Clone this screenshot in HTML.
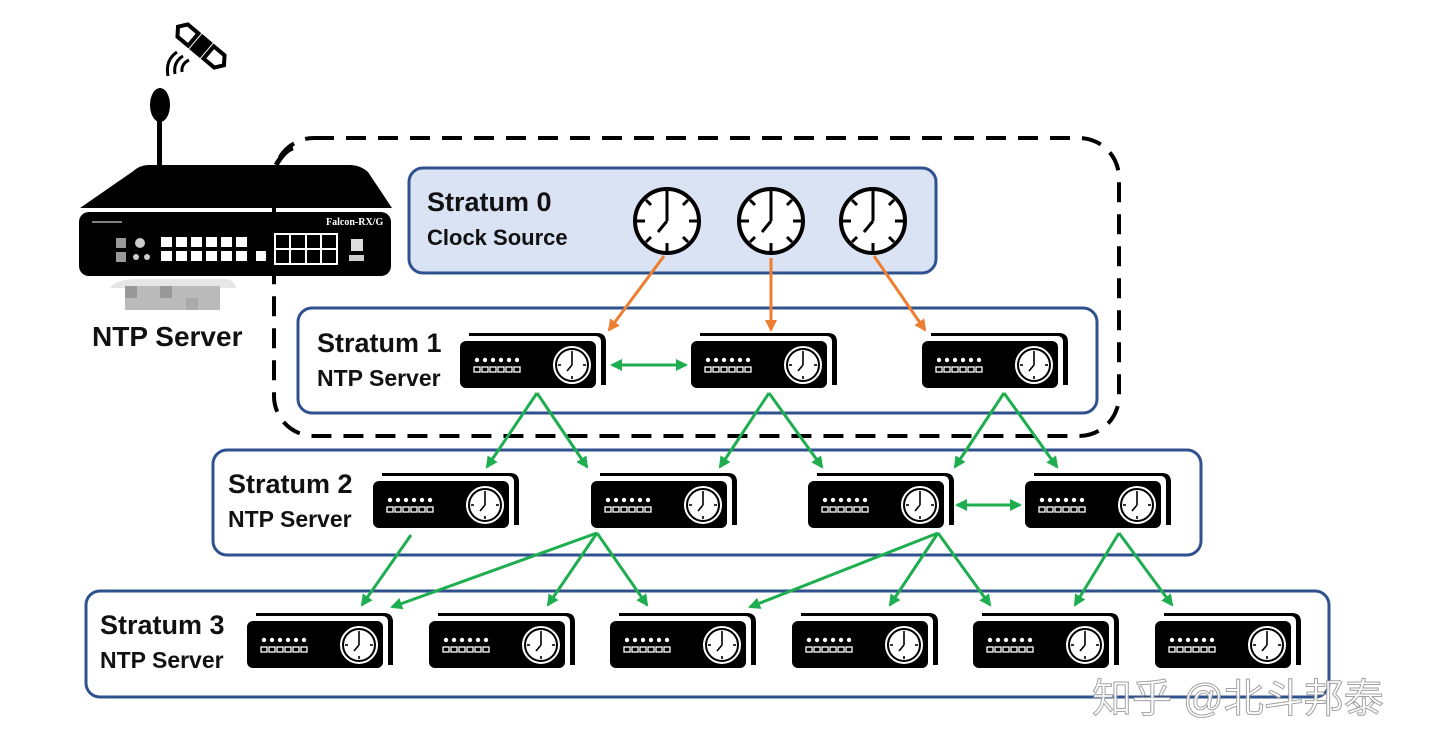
<!DOCTYPE html>
<html><head><meta charset="utf-8"><style>
html,body{margin:0;padding:0;background:#fff;}
svg{display:block;}
.t{font-family:"Liberation Sans",sans-serif;font-weight:bold;fill:#111;}
</style></head><body>
<svg width="1436" height="755" viewBox="0 0 1436 755" xmlns="http://www.w3.org/2000/svg">
<defs>
<g id="clk">
  <circle r="32" fill="#fff" stroke="#000" stroke-width="4"/>
  <g stroke="#000" stroke-width="3">
    <line x1="0" y1="-30" x2="0" y2="-22"/><line x1="0" y1="30" x2="0" y2="22"/>
    <line x1="-30" y1="0" x2="-22" y2="0"/><line x1="30" y1="0" x2="22" y2="0"/>
    <line x1="21" y1="-21" x2="16" y2="-16"/><line x1="21" y1="21" x2="16" y2="16"/>
    <line x1="-21" y1="21" x2="-16" y2="16"/><line x1="-21" y1="-21" x2="-16" y2="-16"/>
    <line x1="0" y1="0" x2="0" y2="-24"/><line x1="0" y1="0" x2="-9" y2="11"/>
  </g>
</g>
<g id="srv">
  <path d="M10 0 H138 Q147 0 147 9 V52 H138 V12 Q138 6 132 6 H10 Z" fill="#000"/>
  <path d="M6 3 H136 Q142 3 142 9 V54 H134 V14 Q134 9 129 9 H6 Z" fill="#fff"/>
  <rect x="1" y="8" width="136" height="47" rx="6" fill="#000"/>
  <g fill="#fff">
    <circle cx="18" cy="27" r="2.2"/><circle cx="26" cy="27" r="2.2"/><circle cx="34" cy="27" r="2.2"/>
    <circle cx="42" cy="27" r="2.2"/><circle cx="50" cy="27" r="2.2"/><circle cx="58" cy="27" r="2.2"/>
  </g>
  <g fill="none" stroke="#fff" stroke-width="1.3">
    <rect x="15" y="34" width="6" height="5"/><rect x="23" y="34" width="6" height="5"/><rect x="31" y="34" width="6" height="5"/>
    <rect x="39" y="34" width="6" height="5"/><rect x="47" y="34" width="6" height="5"/><rect x="55" y="34" width="6" height="5"/>
  </g>
  <circle cx="113" cy="32" r="18" fill="#000" stroke="#fff" stroke-width="2"/>
  <circle cx="113" cy="32" r="15" fill="#fff"/>
  <g stroke="#000" stroke-width="1.6">
    <line x1="113" y1="18" x2="113" y2="21"/><line x1="113" y1="46" x2="113" y2="43"/>
    <line x1="99" y1="32" x2="102" y2="32"/><line x1="127" y1="32" x2="124" y2="32"/>
    <line x1="113" y1="32" x2="113" y2="21"/><line x1="113" y1="32" x2="108" y2="38"/>
  </g>
</g>
<marker id="ag" markerWidth="14" markerHeight="14" refX="10" refY="6" orient="auto" markerUnits="userSpaceOnUse"><path d="M0 0 L12 6 L0 12 Z" fill="#1fae4f"/></marker>
<marker id="ag2" markerWidth="14" markerHeight="14" refX="2" refY="6" orient="auto" markerUnits="userSpaceOnUse"><path d="M12 0 L0 6 L12 12 Z" fill="#1fae4f"/></marker>
<marker id="ao2" markerWidth="14" markerHeight="14" refX="10" refY="6" orient="auto" markerUnits="userSpaceOnUse"><path d="M0 0 L12 6 L0 12 Z" fill="#ed7d31"/></marker>
</defs>

<rect x="274" y="138" width="845" height="298" rx="40" fill="none" stroke="#000" stroke-width="4" stroke-dasharray="20 12"/>

<rect x="409" y="168" width="527" height="105" rx="14" fill="#dae3f3" stroke="#2f528f" stroke-width="3"/>
<rect x="298" y="308" width="799" height="105" rx="14" fill="#fff" stroke="#2f528f" stroke-width="3"/>
<rect x="213" y="450" width="988" height="105" rx="14" fill="#fff" stroke="#2f528f" stroke-width="3"/>
<rect x="86" y="591" width="1243" height="106" rx="14" fill="#fff" stroke="#2f528f" stroke-width="3"/>

<text class="t" x="427" y="211" font-size="27">Stratum 0</text>
<text class="t" x="427" y="245" font-size="22">Clock Source</text>
<text class="t" x="317" y="352" font-size="27">Stratum 1</text>
<text class="t" x="317" y="386" font-size="23">NTP Server</text>
<text class="t" x="228" y="493" font-size="27">Stratum 2</text>
<text class="t" x="228" y="527" font-size="23">NTP Server</text>
<text class="t" x="100" y="634" font-size="27">Stratum 3</text>
<text class="t" x="100" y="668" font-size="23">NTP Server</text>
<text class="t" x="92" y="346" font-size="28">NTP Server</text>

<use href="#clk" x="667" y="221"/><use href="#clk" x="771" y="221"/><use href="#clk" x="873" y="221"/>

<use href="#srv" x="459" y="333"/><use href="#srv" x="690" y="333"/><use href="#srv" x="921" y="333"/>
<use href="#srv" x="372" y="473"/><use href="#srv" x="590" y="473"/><use href="#srv" x="807" y="473"/><use href="#srv" x="1024" y="473"/>
<use href="#srv" x="246" y="613"/><use href="#srv" x="428" y="613"/><use href="#srv" x="609" y="613"/><use href="#srv" x="791" y="613"/><use href="#srv" x="972" y="613"/><use href="#srv" x="1154" y="613"/>

<g stroke="#ed7d31" stroke-width="3" fill="none">
<line x1="664" y1="256" x2="609" y2="330" marker-end="url(#ao2)"/>
<line x1="771" y1="258" x2="771" y2="330" marker-end="url(#ao2)"/>
<line x1="874" y1="256" x2="925" y2="330" marker-end="url(#ao2)"/>
</g>

<g stroke="#1fae4f" stroke-width="3" fill="none">
<line x1="612" y1="365" x2="686" y2="365" marker-start="url(#ag2)" marker-end="url(#ag)"/>
<line x1="957" y1="505" x2="1020" y2="505" marker-start="url(#ag2)" marker-end="url(#ag)"/>
<line x1="537" y1="393" x2="487" y2="467" marker-end="url(#ag)"/>
<line x1="537" y1="393" x2="587" y2="467" marker-end="url(#ag)"/>
<line x1="769" y1="393" x2="720" y2="467" marker-end="url(#ag)"/>
<line x1="769" y1="393" x2="822" y2="467" marker-end="url(#ag)"/>
<line x1="1004" y1="393" x2="955" y2="467" marker-end="url(#ag)"/>
<line x1="1004" y1="393" x2="1057" y2="467" marker-end="url(#ag)"/>
<line x1="411" y1="535" x2="362" y2="605" marker-end="url(#ag)"/>
<line x1="597" y1="533" x2="392" y2="607" marker-end="url(#ag)"/>
<line x1="597" y1="533" x2="548" y2="605" marker-end="url(#ag)"/>
<line x1="597" y1="533" x2="647" y2="605" marker-end="url(#ag)"/>
<line x1="938" y1="533" x2="750" y2="607" marker-end="url(#ag)"/>
<line x1="938" y1="533" x2="890" y2="605" marker-end="url(#ag)"/>
<line x1="938" y1="533" x2="990" y2="605" marker-end="url(#ag)"/>
<line x1="1119" y1="533" x2="1075" y2="605" marker-end="url(#ag)"/>
<line x1="1119" y1="533" x2="1172" y2="605" marker-end="url(#ag)"/>
</g>

<g>
  <ellipse cx="160" cy="105" rx="10" ry="17" fill="#000"/>
  <rect x="157" y="115" width="5" height="52" fill="#000"/>
  <path d="M276 165 Q285 150 293 148" stroke="#000" stroke-width="5" fill="none"/>
  <path d="M148 165 H350 Q360 165 368 172 L392 208 H80 L132 172 Q140 165 148 165 Z" fill="#000"/>
  <rect x="79" y="212" width="312" height="64" rx="10" fill="#000"/>
  <text x="326" y="225" font-family="Liberation Serif,serif" font-weight="bold" font-size="10" fill="#fff">Falcon-RX/G</text>
  <path d="M92 222 H122" stroke="#fff" stroke-width="1"/>
  <rect x="116" y="238" width="10" height="10" fill="#999"/><rect x="116" y="252" width="10" height="10" fill="#999"/>
  <circle cx="140" cy="243" r="5" fill="#ccc"/><circle cx="136" cy="257" r="3" fill="#ccc"/><circle cx="147" cy="257" r="3" fill="#ccc"/>
  <g fill="#fff">
    <rect x="161" y="237" width="11" height="10"/><rect x="176" y="237" width="11" height="10"/><rect x="191" y="237" width="11" height="10"/><rect x="206" y="237" width="11" height="10"/><rect x="221" y="237" width="11" height="10"/><rect x="236" y="237" width="11" height="10"/>
    <rect x="161" y="251" width="11" height="10"/><rect x="176" y="251" width="11" height="10"/><rect x="191" y="251" width="11" height="10"/><rect x="206" y="251" width="11" height="10"/><rect x="221" y="251" width="11" height="10"/><rect x="236" y="251" width="11" height="10"/>
    <rect x="256" y="251" width="10" height="10"/>
    <rect x="351" y="239" width="12" height="12" fill="#ddd"/><rect x="349" y="255" width="15" height="6" fill="#ccc"/>
  </g>
  <rect x="275" y="234" width="62" height="30" fill="none" stroke="#fff" stroke-width="2"/>
  <g stroke="#fff" stroke-width="2"><line x1="290" y1="234" x2="290" y2="264"/><line x1="306" y1="234" x2="306" y2="264"/><line x1="321" y1="234" x2="321" y2="264"/><line x1="275" y1="249" x2="337" y2="249"/></g>
  <path d="M110 288 Q115 280 135 279 H225 Q235 280 236 288 Z" fill="#e6e6e6"/>
  <rect x="125" y="286" width="95" height="24" fill="#bbb"/>
  <rect x="125" y="286" width="12" height="12" fill="#999"/><rect x="160" y="286" width="12" height="12" fill="#999"/><rect x="186" y="298" width="12" height="12" fill="#aaa"/>
  <g transform="translate(201,46) rotate(40)" fill="#fff" stroke="#000" stroke-width="4">
    <rect x="-5" y="-8" width="10" height="16" fill="#000"/>
    <path d="M-10 -8 L-24 -8 L-30 0 L-24 8 L-10 8 Z"/>
    <path d="M10 -8 L24 -8 L30 0 L24 8 L10 8 Z"/>
  </g>
  <path d="M189 60 Q181 64 182 72 M183 56 Q173 62 175 74 M177 52 Q165 60 168 76" stroke="#000" stroke-width="3" fill="none"/>
</g>

<text x="1092" y="712" font-family="'Liberation Sans','Noto Sans CJK SC',sans-serif" font-size="40" fill="#fff" stroke="#999" stroke-width="1" opacity="0.9">知乎 @北斗邦泰</text>
</svg>
</body></html>
